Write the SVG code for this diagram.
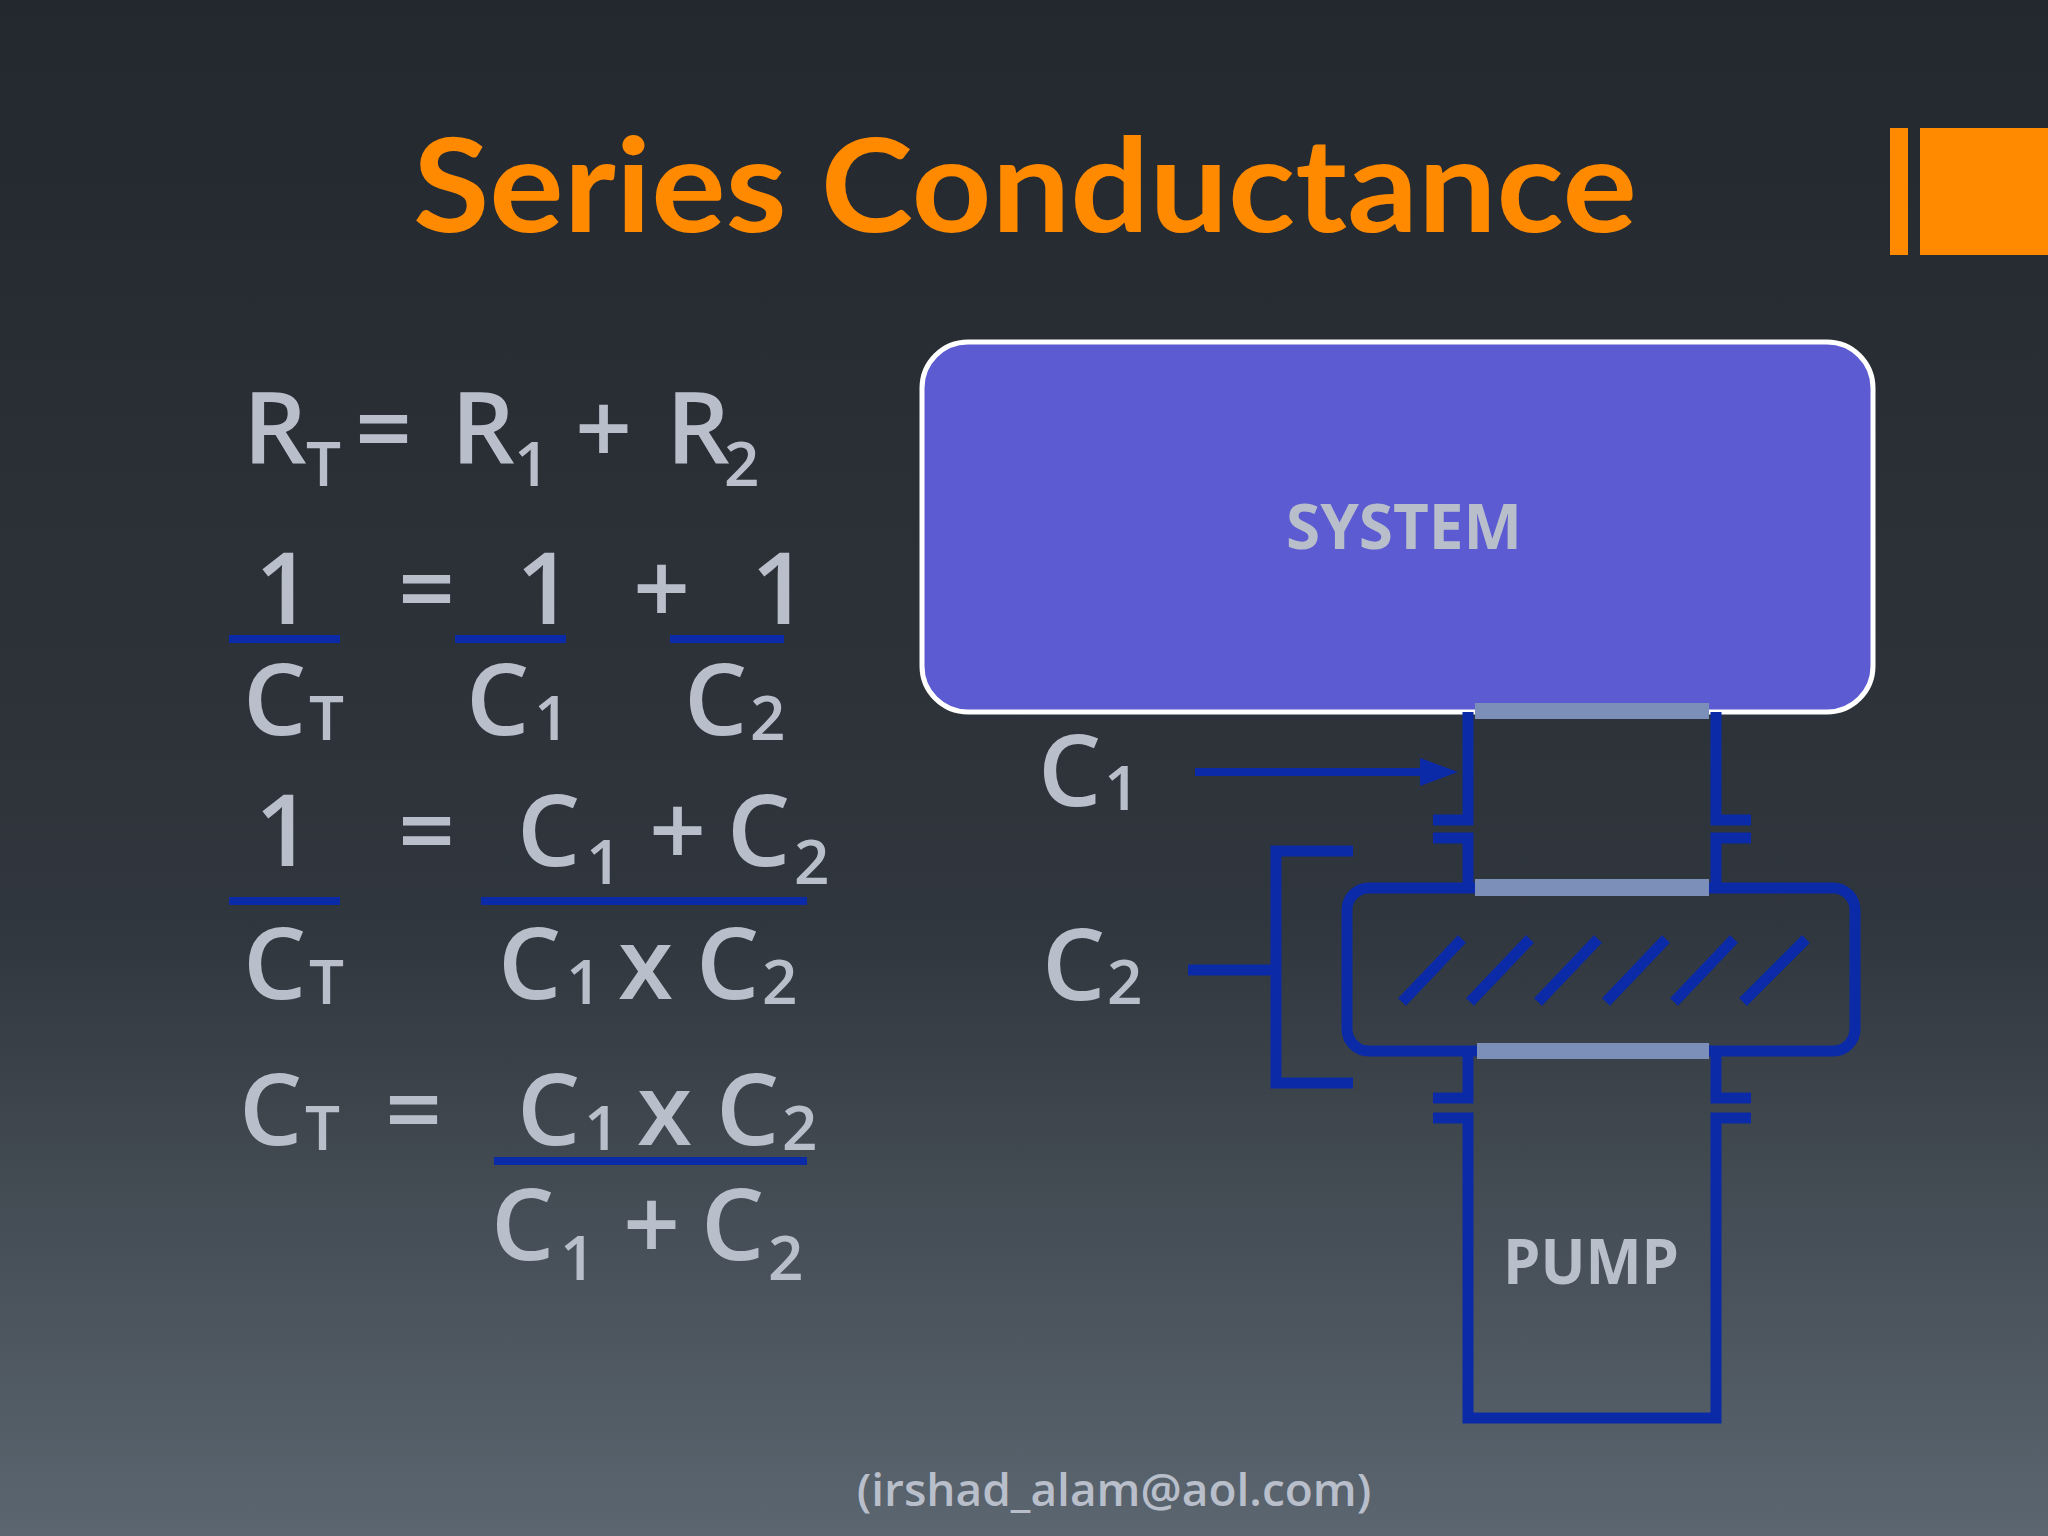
<svg xmlns="http://www.w3.org/2000/svg" width="2048" height="1536" viewBox="0 0 2048 1536">
<defs>
<linearGradient id="bg" x1="0" y1="0" x2="0" y2="1">
<stop offset="0" stop-color="#23282e"/><stop offset="0.6" stop-color="#30363d"/><stop offset="1" stop-color="#5b6670"/>
</linearGradient>
</defs>
<style>
.t{font-family:"Open Sans","Liberation Sans",sans-serif;font-weight:600;fill:#b8bfca;font-size:100px}
.s{font-size:62px}
.lbl{font-size:62px;font-weight:bold}
.b{stroke:#0a2aa8;stroke-width:11;fill:none}
.u{stroke:#0a2aa8;stroke-width:8}
.lb{fill:#7b8fb8}
</style>
<rect width="2048" height="1536" fill="url(#bg)"/>
<text x="1025" y="232" text-anchor="middle" font-family="Lato,'Liberation Sans',sans-serif" font-weight="bold" font-size="130" fill="#ff8a00" textLength="1224" lengthAdjust="spacingAndGlyphs">Series Conductance</text>
<rect x="1890" y="128" width="18" height="127" fill="#ff8a00"/>
<rect x="1920" y="128" width="128" height="127" fill="#ff8a00"/>
<g id="equations">
<text class="t" x="243" y="464">R</text><text class="t s" x="306" y="486">T</text><text class="t" x="355" y="464">=</text><text class="t" x="451" y="464">R</text><text class="t s" x="514" y="486">1</text><text class="t" x="575" y="464">+</text><text class="t" x="666" y="464">R</text><text class="t s" x="724" y="486">2</text>
<text class="t" x="255" y="624">1</text><text class="t" x="398" y="624">=</text><text class="t" x="516" y="624">1</text><text class="t" x="633" y="624">+</text><text class="t" x="751" y="624">1</text>
<line class="u" x1="229" y1="639" x2="340" y2="639"/><line class="u" x1="455" y1="639" x2="566" y2="639"/><line class="u" x1="670" y1="639" x2="784" y2="639"/>
<text class="t" x="243" y="735">C</text><text class="t s" x="309" y="740">T</text><text class="t" x="466" y="735">C</text><text class="t s" x="534" y="740">1</text><text class="t" x="684" y="735">C</text><text class="t s" x="750" y="740">2</text>
<text class="t" x="255" y="866">1</text><text class="t" x="398" y="866">=</text><text class="t" x="517" y="866">C</text><text class="t s" x="586" y="884">1</text><text class="t" x="649" y="866">+</text><text class="t" x="727" y="866">C</text><text class="t s" x="794" y="884">2</text>
<line class="u" x1="229" y1="901" x2="340" y2="901"/><line class="u" x1="481" y1="901" x2="807" y2="901"/>
<text class="t" x="243" y="999">C</text><text class="t s" x="309" y="1004">T</text><text class="t" x="498" y="999">C</text><text class="t s" x="566" y="1004">1</text><text class="t" x="618" y="999">x</text><text class="t" x="696" y="999">C</text><text class="t s" x="762" y="1004">2</text>
<text class="t" x="239" y="1145">C</text><text class="t s" x="305" y="1150">T</text><text class="t" x="385" y="1145">=</text><text class="t" x="517" y="1145">C</text><text class="t s" x="584" y="1150">1</text><text class="t" x="637" y="1145">x</text><text class="t" x="716" y="1145">C</text><text class="t s" x="782" y="1150">2</text>
<line class="u" x1="494" y1="1161" x2="807" y2="1161"/>
<text class="t" x="491" y="1260">C</text><text class="t s" x="560" y="1280">1</text><text class="t" x="623" y="1260">+</text><text class="t" x="701" y="1260">C</text><text class="t s" x="768" y="1280">2</text>
</g>
<g id="system">
<rect x="922" y="342" width="951" height="370" rx="46" fill="#5c5bd1" stroke="#ffffff" stroke-width="5"/>
<text class="t lbl" x="1404" y="549" text-anchor="middle" textLength="236" lengthAdjust="spacingAndGlyphs">SYSTEM</text>
</g>
<g id="pipe">
<path class="b" d="M1468,712 V820 H1433 M1716,712 V820 H1751 M1433,838 H1468 V886 M1751,838 H1716 V886"/>
<rect x="1475" y="703" width="234" height="16" class="lb"/>
</g>
<g id="baffle">
<rect x="1347" y="888" width="508" height="163" rx="22" class="b"/>
<rect x="1475" y="879" width="234" height="17" class="lb"/>
<rect x="1477" y="1043" width="232" height="16" class="lb"/>
<path class="b" d="M1402,1002 L1462,939 M1470,1002 L1530,939 M1538,1002 L1598,939 M1606,1002 L1666,939 M1674,1002 L1734,939 M1743,1002 L1806,939"/>
</g>
<g id="pump">
<path class="b" d="M1468,1052 V1098 H1433 M1716,1052 V1098 H1751 M1433,1118 H1468 V1418 H1716 V1118 H1751"/>
<text class="t lbl" x="1591" y="1284" text-anchor="middle" textLength="176" lengthAdjust="spacingAndGlyphs">PUMP</text>
</g>
<g id="connectors">
<line x1="1195" y1="772" x2="1430" y2="772" stroke="#0a2aa8" stroke-width="8"/>
<path d="M1420,758 L1458,772 L1420,786 z" fill="#0a2aa8"/>
<path class="b" d="M1353,851 H1276 V1083 H1353 M1188,970 H1276"/>
</g>
<g id="labels">
<text class="t" x="1038" y="806">C</text><text class="t s" x="1104" y="810">1</text>
<text class="t" x="1042" y="1000">C</text><text class="t s" x="1107" y="1004">2</text>
</g>
<text x="1114" y="1506" text-anchor="middle" font-family="'Open Sans','Liberation Sans',sans-serif" font-weight="600" font-size="46" fill="#b8bfca">(irshad_alam@aol.com)</text>
</svg>
